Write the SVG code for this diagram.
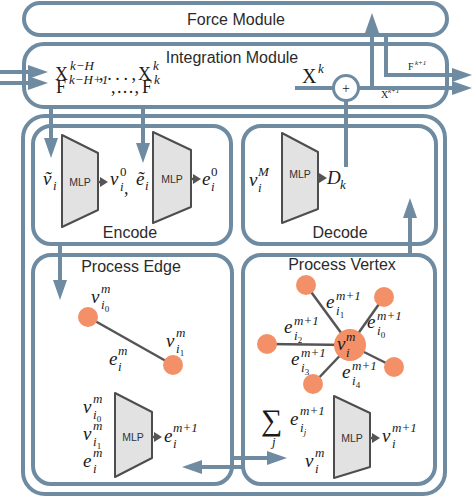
<svg xmlns="http://www.w3.org/2000/svg" width="474" height="499" viewBox="0 0 474 499">
<style>
.box{fill:none;stroke:#6e8ba1;stroke-width:4}
.con{fill:none;stroke:#6e8ba1;stroke-width:4}
.mlp{fill:#e2e2e2;stroke:#4d4d4d;stroke-width:2;stroke-linejoin:round}
.ml{font-family:"Liberation Sans",Arial,sans-serif;font-size:10.5px;fill:#333;text-anchor:middle}
.sm{stroke:#555;stroke-width:2.5}
.ga{stroke:#555;stroke-width:2.5;fill:none}
.nd{fill:#f39068}
.t{font-family:"Liberation Sans",Arial,sans-serif;font-size:16px;fill:#2b2b2b;text-anchor:middle}
.up{font-family:"Liberation Serif","DejaVu Serif",serif;font-size:18px;fill:#1a1a1a}
.m{font-family:"Liberation Serif","DejaVu Serif",serif;font-style:italic;font-size:19px;fill:#1a1a1a}
.s{font-family:"Liberation Serif","DejaVu Serif",serif;font-style:italic;font-size:13px;fill:#1a1a1a}
.ss{font-family:"Liberation Serif","DejaVu Serif",serif;font-style:normal;font-size:9px}
.su{font-family:"Liberation Serif","DejaVu Serif",serif;font-size:13px;fill:#1a1a1a}
</style>
<defs>
<marker id="ah" markerUnits="userSpaceOnUse" markerWidth="20" markerHeight="14" viewBox="0 0 20 14" refX="6" refY="7" orient="auto">
<path d="M0,0 L20,7 L0,14 z" fill="#6e8ba1"/>
</marker>
<marker id="am" markerUnits="userSpaceOnUse" markerWidth="8" markerHeight="10" viewBox="0 0 8 10" refX="2" refY="5" orient="auto">
<path d="M0,0 L8,5 L0,10 z" fill="#555"/>
</marker>
</defs>
<rect width="474" height="499" fill="#fff"/>

<g id="force-module">
<rect class="box" x="24" y="3" width="423" height="32" rx="16"/>
<text class="t" x="236" y="25">Force Module</text>
</g>

<g id="integration-module">
<rect class="box" x="24" y="44" width="423" height="63" rx="20"/>
<text class="t" x="232" y="63">Integration Module</text>
<text class="up" x="55" y="80">X</text>
<text class="s" x="70" y="70">k−H</text>
<text class="up" x="99" y="80" textLength="37" lengthAdjust="spacing">, . . . ,</text>
<text class="up" x="138" y="80">X</text>
<text class="s" x="153" y="70">k</text>
<text class="up" x="56" y="93">F</text>
<text class="s" x="69" y="84">k−H+1</text>
<text class="up" x="111" y="93" textLength="28" lengthAdjust="spacing">, . . . ,</text>
<text class="up" x="142" y="93">F</text>
<text class="s" x="154" y="84">k</text>
<text class="up" x="302" y="83" style="font-size:20px">X</text>
<text class="s" x="318" y="73">k</text>
<text class="up" x="408" y="70" style="font-size:10px">F</text>
<text class="s" x="415" y="65" style="font-size:7px">k+1</text>
<text class="up" x="381" y="98" style="font-size:10px">X</text>
<text class="s" x="388" y="93" style="font-size:7px">k+1</text>
</g>

<g id="processor">
<rect class="box" x="23" y="116" width="422" height="378" rx="22"/>
</g>

<g id="encode">
<rect class="box" x="33" y="126" width="198" height="118" rx="18"/>
<polygon class="mlp" points="62,135 98,153 98,210 62,227"/>
<text class="ml" x="80" y="186">MLP</text>
<line class="ga" x1="98" y1="182" x2="102" y2="182" marker-end="url(#am)"/>
<polygon class="mlp" points="153,132 191,150 191,207 153,223"/>
<text class="ml" x="172" y="183">MLP</text>
<line class="ga" x1="191" y1="179" x2="195" y2="179" marker-end="url(#am)"/>
<text class="m" x="43" y="185">ṽ</text>
<text class="s" x="53" y="190">i</text>
<text class="m" x="110" y="185">v</text>
<text class="su" x="120" y="176">0</text>
<text class="s" x="120" y="191">i</text>
<text class="up" x="124" y="194">,</text>
<text class="m" x="136" y="185">ẽ</text>
<text class="s" x="145" y="190">i</text>
<text class="m" x="202" y="185">e</text>
<text class="su" x="211" y="176">0</text>
<text class="s" x="211" y="191">i</text>
<text class="t" x="130" y="238">Encode</text>
</g>

<g id="decode">
<rect class="box" x="243" y="126" width="193" height="118" rx="18"/>
<polygon class="mlp" points="282,133 318,152 318,209 282,223"/>
<text class="ml" x="300" y="178">MLP</text>
<line class="ga" x1="318" y1="178" x2="321" y2="178" marker-end="url(#am)"/>
<text class="m" x="249" y="186">v</text>
<text class="s" x="258" y="176">M</text>
<text class="s" x="258" y="192">i</text>
<text class="m" x="327" y="184">D</text>
<text class="s" x="340" y="189">k</text>
<text class="t" x="340" y="238">Decode</text>
</g>

<g id="process-edge">
<rect class="box" x="33" y="255" width="199" height="229" rx="18"/>
<text class="t" x="131" y="272">Process Edge</text>
<line class="sm" x1="88" y1="317" x2="173" y2="365"/>
<circle class="nd" cx="88" cy="317" r="10"/>
<circle class="nd" cx="173" cy="365" r="10"/>
<text class="m" x="91" y="303">v</text>
<text class="s" x="101" y="293">m</text>
<text class="s" x="101" y="309">i<tspan class="ss" dy="3">0</tspan></text>
<text class="m" x="166" y="347">v</text>
<text class="s" x="176" y="337">m</text>
<text class="s" x="176" y="353">i<tspan class="ss" dy="3">1</tspan></text>
<text class="m" x="109" y="365">e</text>
<text class="s" x="118" y="355">m</text>
<text class="s" x="118" y="371">i</text>
<polygon class="mlp" points="115,393 152,412 152,458 115,477"/>
<text class="ml" x="133" y="441">MLP</text>
<line class="ga" x1="152" y1="437" x2="156" y2="437" marker-end="url(#am)"/>
<text class="m" x="83" y="413">v</text>
<text class="s" x="93" y="403">m</text>
<text class="s" x="93" y="419">i<tspan class="ss" dy="3">0</tspan></text>
<text class="m" x="83" y="440">v</text>
<text class="s" x="93" y="430">m</text>
<text class="s" x="93" y="446">i<tspan class="ss" dy="3">1</tspan></text>
<text class="m" x="83" y="467">e</text>
<text class="s" x="93" y="457">m</text>
<text class="s" x="93" y="473">i</text>
<text class="m" x="164" y="442">e</text>
<text class="s" x="173" y="432">m+1</text>
<text class="s" x="173" y="448">i</text>
</g>

<g id="process-vertex">
<rect class="box" x="243" y="255" width="192" height="229" rx="18"/>
<text class="t" x="342" y="270">Process Vertex</text>
<line class="sm" x1="350" y1="345" x2="306" y2="285"/>
<line class="sm" x1="350" y1="345" x2="384" y2="297"/>
<line class="sm" x1="350" y1="345" x2="267" y2="344"/>
<line class="sm" x1="350" y1="345" x2="394" y2="367"/>
<line class="sm" x1="350" y1="345" x2="313" y2="384"/>
<circle class="nd" cx="306" cy="285" r="10"/>
<circle class="nd" cx="384" cy="297" r="10"/>
<circle class="nd" cx="267" cy="344" r="10"/>
<circle class="nd" cx="394" cy="367" r="10"/>
<circle class="nd" cx="313" cy="384" r="10"/>
<circle class="nd" cx="350" cy="345" r="16"/>
<text class="m" x="337" y="350">v</text>
<text class="s" x="346" y="341">m</text>
<text class="s" x="346" y="357">i</text>
<text class="m" x="326" y="308">e</text>
<text class="s" x="336" y="300">m+1</text>
<text class="s" x="336" y="315">i<tspan class="ss" dy="3">1</tspan></text>
<text class="m" x="367" y="328">e</text>
<text class="s" x="377" y="320">m+1</text>
<text class="s" x="377" y="335">i<tspan class="ss" dy="3">0</tspan></text>
<text class="m" x="284" y="333">e</text>
<text class="s" x="294" y="325">m+1</text>
<text class="s" x="294" y="340">i<tspan class="ss" dy="3">2</tspan></text>
<text class="m" x="291" y="365">e</text>
<text class="s" x="301" y="357">m+1</text>
<text class="s" x="301" y="372">i<tspan class="ss" dy="3">3</tspan></text>
<text class="m" x="342" y="378">e</text>
<text class="s" x="352" y="370">m+1</text>
<text class="s" x="352" y="385">i<tspan class="ss" dy="3">4</tspan></text>
<polygon class="mlp" points="334,396 370,413 370,467 334,478"/>
<text class="ml" x="352" y="442">MLP</text>
<line class="ga" x1="370" y1="438" x2="374" y2="438" marker-end="url(#am)"/>
<text class="up" x="261" y="430" style="font-size:30px">∑</text>
<text class="s" x="272" y="446">j</text>
<text class="m" x="290" y="425">e</text>
<text class="s" x="300" y="415">m+1</text>
<text class="s" x="300" y="432">i<tspan class="ss" dy="3" style="font-style:italic">j</tspan></text>
<text class="m" x="305" y="467">v</text>
<text class="s" x="315" y="457">m</text>
<text class="s" x="315" y="473">i</text>
<text class="m" x="382" y="442">v</text>
<text class="s" x="392" y="432">m+1</text>
<text class="s" x="392" y="448">i</text>
</g>

<g id="connectors">
<line class="con" x1="0" y1="72" x2="34" y2="72" marker-end="url(#ah)"/>
<line class="con" x1="0" y1="83" x2="34" y2="83" marker-end="url(#ah)"/>
<line class="con" x1="51" y1="107" x2="51" y2="144" marker-end="url(#ah)"/>
<line class="con" x1="143" y1="107" x2="143" y2="149" marker-end="url(#ah)"/>
<line class="con" x1="60" y1="244" x2="60" y2="286" marker-end="url(#ah)"/>
<line class="con" x1="410" y1="255" x2="410" y2="212" marker-end="url(#ah)"/>
<line class="con" x1="346" y1="100" x2="346" y2="167"/>
<line class="con" x1="295" y1="88" x2="334" y2="88"/>
<line class="con" x1="358" y1="88" x2="458" y2="88" marker-end="url(#ah)"/>
<line class="con" x1="372" y1="88" x2="372" y2="27" marker-end="url(#ah)"/>
<path class="con" d="M386,35 V75 H458" marker-end="url(#ah)"/>
<line class="con" x1="232" y1="458" x2="273" y2="458" marker-end="url(#ah)"/>
<line class="con" x1="243" y1="467" x2="196" y2="467" marker-end="url(#ah)"/>
</g>

<g id="sum-node">
<circle cx="346" cy="88" r="12.5" fill="#fff" stroke="#6e8ba1" stroke-width="3"/>
<text class="up" x="346" y="93" style="font-size:14px" text-anchor="middle">+</text>
</g>
</svg>
